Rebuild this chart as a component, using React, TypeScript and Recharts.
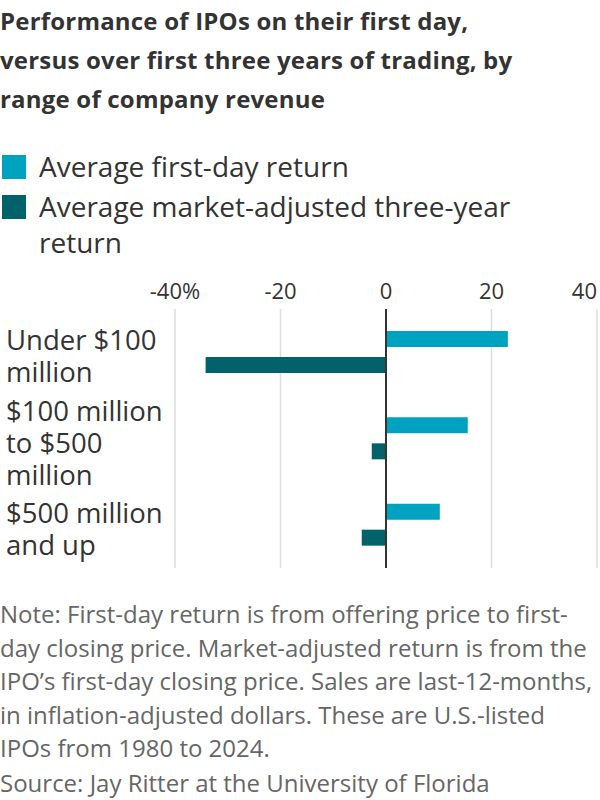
import React from "react";
import {
  BarChart,
  Bar,
  XAxis,
  YAxis,
  CartesianGrid,
  ReferenceLine,
} from "recharts";

const categories = ["Under $100\nmillion", "$100 million\nto $500\nmillion", "$500 million\nand up"];
const firstDayReturn = [23.1, 15.5, 10.2];
const threeYearReturn = [-34.2, -2.7, -4.6];
const xTicks = [-40, -20, 0, 20, 40];
const xTickLabels = ["-40%", "-20", "0", "20", "40"];

const LIGHT = "#00a3bf";
const DARK = "#00626b";
const FONT = "'Open Sans', 'Noto Sans', sans-serif";

const seriesInfo = [
  { key: "firstDay", name: "Average first-day return", color: LIGHT },
  { key: "threeYear", name: "Average market-adjusted three-year\nreturn", color: DARK },
];

const data = categories.map((label, i) => ({
  label,
  firstDay: firstDayReturn[i],
  threeYear: threeYearReturn[i],
}));

function XTick(props: any) {
  const { x, y, payload, index } = props;
  const last = index === xTicks.length - 1;
  return (
    <text x={x} y={y} textAnchor={last ? "end" : "middle"} fill="#333" fontSize={22} fontFamily={FONT}>
      {xTickLabels[xTicks.indexOf(payload.value)]}
    </text>
  );
}

function YTick(props: any) {
  const { y, payload } = props;
  const lines = String(payload.value).split("\n");
  const first = y - (lines.length - 1) * 16 + 14;
  return (
    <text x={6} y={first} textAnchor="start" fill="#333" fontSize={27.5} fontFamily={FONT}>
      {lines.map((l, i) => (
        <tspan key={i} x={6} y={first + i * 32}>
          {l}
        </tspan>
      ))}
    </text>
  );
}

export default function App() {
  return (
    <div style={{ position: "absolute", left: 0, top: 0, width: 600, height: 800, background: "#fff", fontFamily: FONT, color: "#333", overflow: "hidden" }}>
      <div style={{ position: "absolute", left: 0, top: 0, width: 600, fontSize: 24, fontWeight: 700, lineHeight: "39px", paddingTop: 1, letterSpacing: 0.2, whiteSpace: "nowrap" }}>
        Performance of IPOs on their first day,
        <br />
        versus over first three years of trading, by
        <br />
        range of company revenue
      </div>

      <div style={{ position: "absolute", left: 0, top: 148 }}>
        {seriesInfo.map((s) => (
          <div key={s.key} style={{ display: "flex", alignItems: "flex-start", marginBottom: 4 }}>
            <div style={{ width: 24, height: 24, background: s.color, marginTop: 7, marginLeft: 2, flexShrink: 0 }} />
            <div style={{ marginLeft: 13, fontSize: 28, lineHeight: "36px", whiteSpace: "pre-line" }}>{s.name}</div>
          </div>
        ))}
      </div>

      <div style={{ position: "absolute", left: 0, top: 270 }}>
        <BarChart
          width={600}
          height={300}
          data={data}
          layout="vertical"
          margin={{ top: 0, right: 3, bottom: 2, left: 0 }}
          barSize={16}
          barGap={10}
        >
          <CartesianGrid horizontal={false} stroke="#dddddd" strokeWidth={1.5} />
          <XAxis
            type="number"
            orientation="top"
            domain={[-40, 40]}
            ticks={xTicks}
            height={39}
            axisLine={false}
            tickLine={false}
            tickSize={0}
            tickMargin={10}
            tick={<XTick />}
            interval={0}
          />
          <YAxis
            type="category"
            dataKey="label"
            width={175}
            axisLine={false}
            tickLine={false}
            tick={<YTick />}
            interval={0}
          />
          <Bar dataKey="firstDay" fill={LIGHT} isAnimationActive={false} />
          <Bar dataKey="threeYear" fill={DARK} isAnimationActive={false} />
          <ReferenceLine x={0} stroke="#333" strokeWidth={2} />
        </BarChart>
      </div>

      <div style={{ position: "absolute", left: 0, top: 597, width: 600, fontSize: 24, lineHeight: "33.5px", color: "#666", whiteSpace: "nowrap" }}>
        Note: First-day return is from offering price to first-
        <br />
        day closing price. Market-adjusted return is from the
        <br />
        IPO’s first-day closing price. Sales are last-12-months,
        <br />
        in inflation-adjusted dollars. These are U.S.-listed
        <br />
        IPOs from 1980 to 2024.
        <div style={{ marginTop: 1 }}>Source: Jay Ritter at the University of Florida</div>
      </div>
    </div>
  );
}
